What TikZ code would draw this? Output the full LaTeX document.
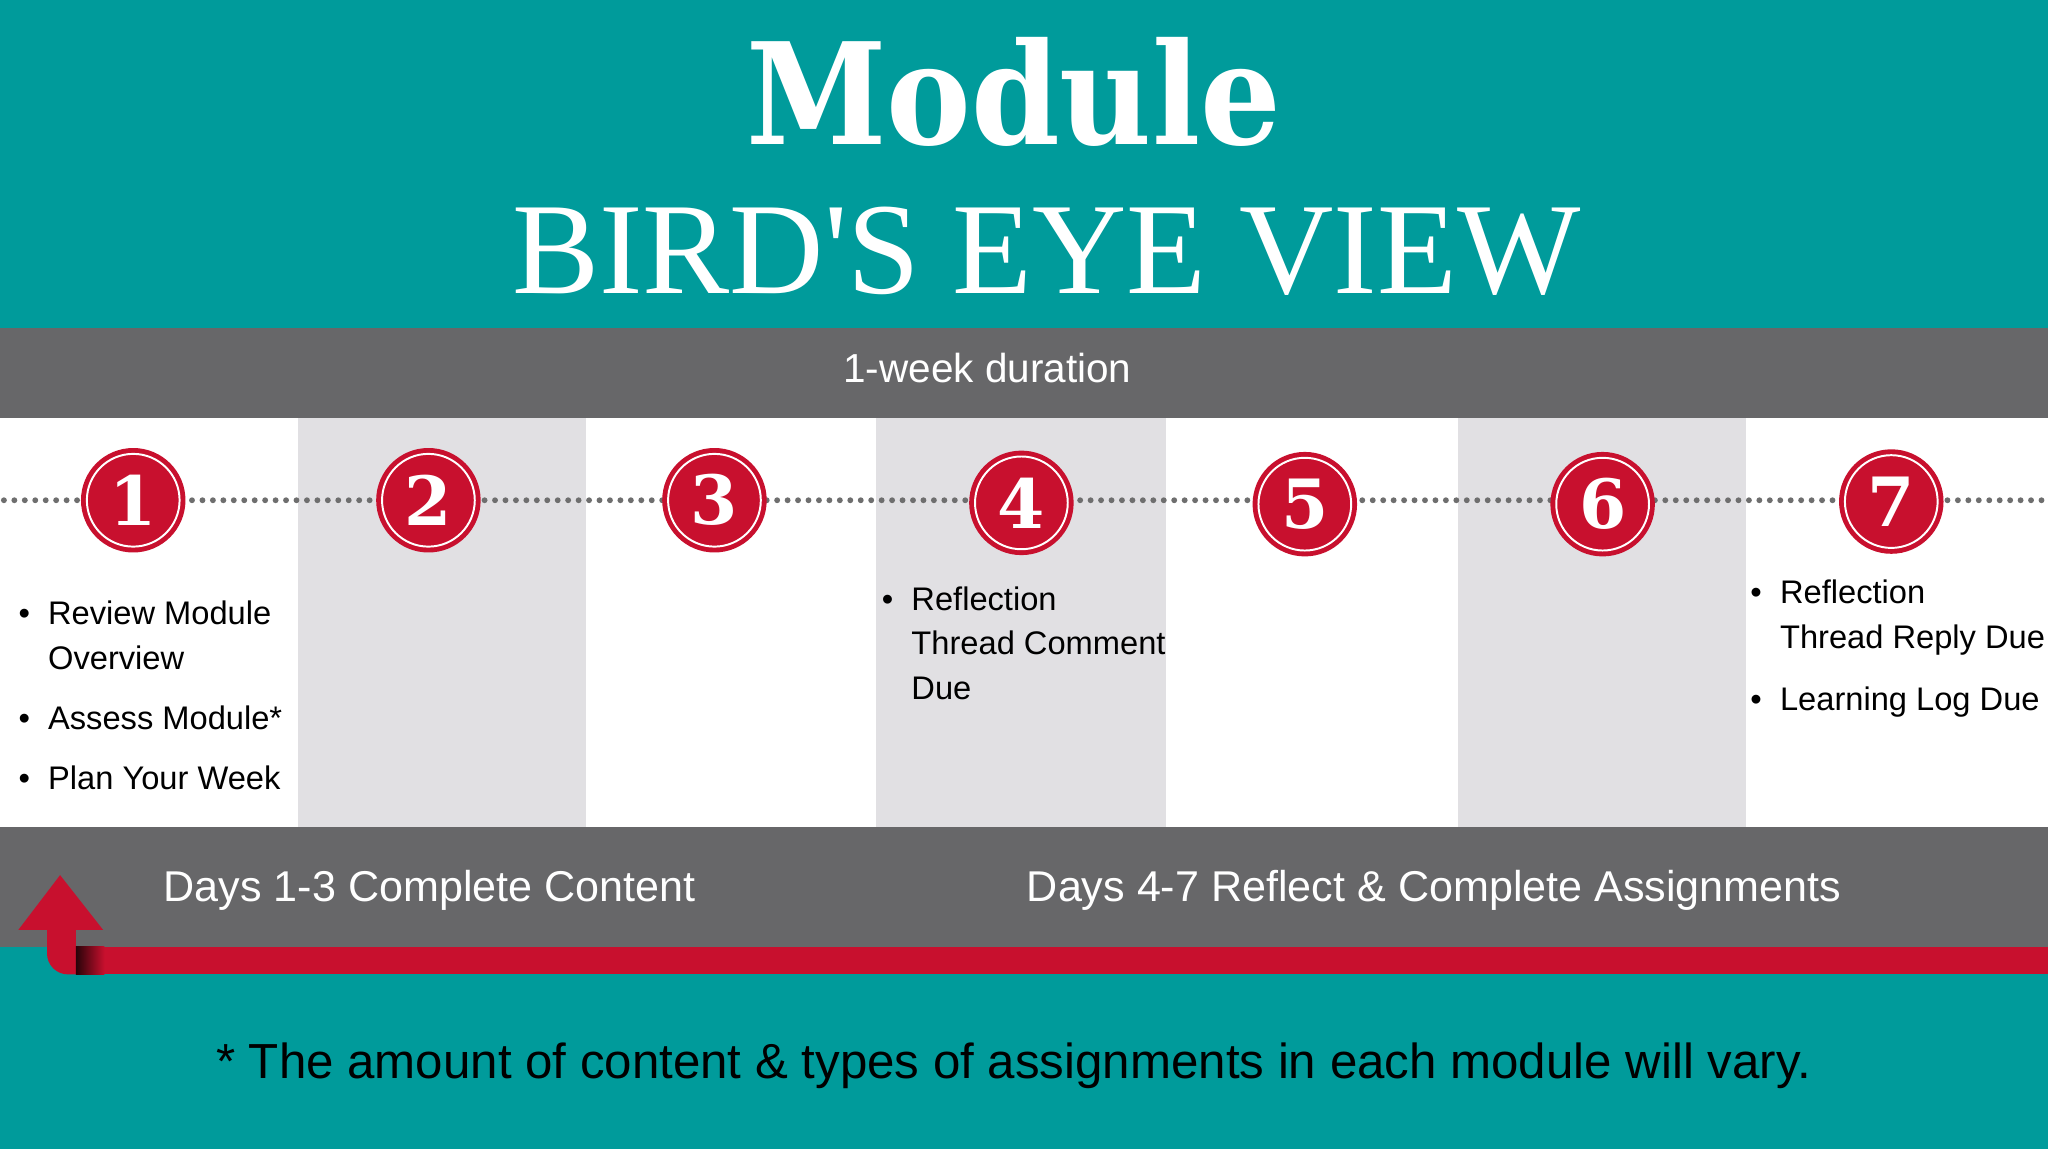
\documentclass[tikz,border=0pt]{standalone}
\usepackage{fontspec}
\setmainfont{Liberation Sans}
\newfontfamily\titlefont{DejaVu Serif Condensed}
\newfontfamily\thinfont{Liberation Serif}
\newfontfamily\numfont{DejaVu Serif}
\definecolor{teal1}{RGB}{0,155,155}
\definecolor{band}{RGB}{103,103,105}
\definecolor{colg}{RGB}{225,224,227}
\definecolor{red1}{RGB}{200,16,46}
\definecolor{dotg}{RGB}{110,110,110}
\tikzset{
  numc/.style={circle,fill=red1,minimum size=80pt,inner sep=0pt,text=white,font=\numfont\bfseries\fontsize{52}{52}\selectfont},
  ring/.style={draw=white,line width=1.5pt},
  bul/.style={anchor=north west,align=left,font=\fontsize{25}{34}\selectfont,text=black,inner sep=0pt},
  bandtxt/.style={text=white,font=\fontsize{33}{33}\selectfont}
}
\begin{document}
\begin{tikzpicture}[x=1pt,y=-1pt]
\fill[teal1] (0,0) rectangle (1568,880);
\useasboundingbox (0,0) rectangle (1568,880);
\node[text=white,font=\titlefont\bfseries\fontsize{108}{108}\selectfont] (title) at (776,70) {Module};
\node[text=white,font=\thinfont\fontsize{100}{100}\selectfont] (sub) at (801,192) {BIRD'S EYE VIEW};
\fill[band] (0,251) rectangle (1568,320);
\node[bandtxt,font=\fontsize{31}{31}\selectfont] (dur) at (756,282) {1-week duration};
\fill[white] (0,320) rectangle (1568,633);
\foreach \a/\b in {228/449,671/893,1116/1337} \fill[colg] (\a,320) rectangle (\b,633);
\draw[dotg,line width=4.5pt,line cap=round,dash pattern=on 0pt off 8pt] (3,383) -- (1565,383);
\foreach \n/\x/\y in {1/102/383,2/328/383,3/547/383,4/782/385,5/999/386,6/1227/386,7/1448/384}{
  \node[numc] (c\n) at (\x,\y) {\n};
  \draw[ring] (c\n.center) circle (35.5);
}
\node[bul] (b1) at (14,460) {\textbullet\ \ Review Module\\\phantom{\textbullet\ \ }Overview\\[12pt]\textbullet\ \ Assess Module*\\[12pt]\textbullet\ \ Plan Your Week};
\node[bul] (b4) at (675,449) {\textbullet\ \ Reflection\\\phantom{\textbullet\ \ }Thread Comment\\\phantom{\textbullet\ \ }Due};
\node[bul] (b7) at (1340,444) {\textbullet\ \ Reflection\\\phantom{\textbullet\ \ }Thread Reply Due\\[14pt]\textbullet\ \ Learning Log Due};
\fill[band] (0,633) rectangle (1568,725);
\node[bandtxt] (d1) at (329,682) {Days 1-3 Complete Content};
\node[bandtxt] (d2) at (1098,682) {Days 4-7 Reflect \& Complete Assignments};
\fill[red1] (58,725) rectangle (1568,746);
\fill[red1] (36,712) -- (36,730) arc[start angle=180,end angle=90,radius=16] -- (70,746) -- (70,725) -- (58,725) -- (58,712) -- cycle;
\fill[red1] (14,712) -- (46,670) -- (79,712) -- cycle;
\shade[left color=black!80!red1,right color=red1] (58,725) rectangle (80,746);
\node[text=black,font=\fontsize{37.7}{38}\selectfont] (foot) at (776,816) {* The amount of content \& types of assignments in each module will vary.};
\end{tikzpicture}
\end{document}
